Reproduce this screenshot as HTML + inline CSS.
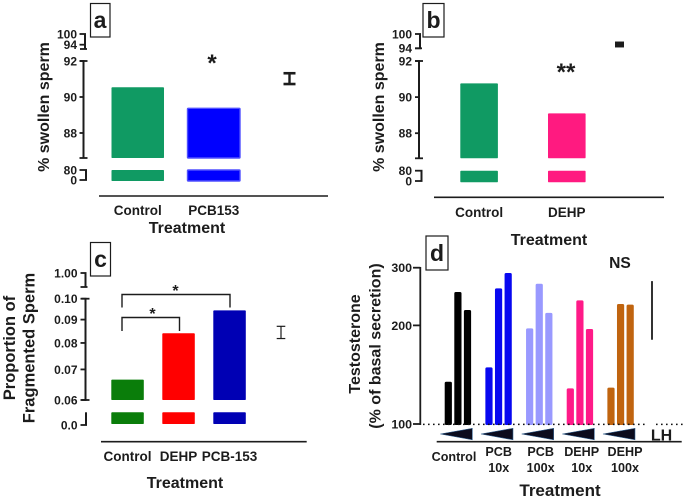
<!DOCTYPE html>
<html lang="en">
<head>
<meta charset="utf-8">
<title>Sperm and testosterone treatment charts</title>
<style>
html,body{margin:0;padding:0;background:#fff;width:685px;height:498px;overflow:hidden}
svg{display:block;filter:blur(0.3px)}
text{font-family:"Liberation Sans",Arial,sans-serif;font-weight:bold;fill:#1c1c1c}
</style>
</head>
<body>
<svg id="chart" xmlns="http://www.w3.org/2000/svg" width="685" height="498" viewBox="0 0 685 498">
  <g stroke="#1c1c1c" stroke-width="1.2" fill="#fff">
    <rect x="90.5" y="3.5" width="19.5" height="33.5"/>
    <rect x="423" y="3.5" width="21" height="33.5"/>
    <rect x="90.5" y="242.5" width="20" height="33.5"/>
    <rect x="426" y="236" width="22" height="34"/>
  </g>
  <text x="100" y="28" font-size="23" text-anchor="middle">a</text>
  <text x="433.5" y="28" font-size="23" text-anchor="middle">b</text>
  <text x="100.5" y="267" font-size="23" text-anchor="middle">c</text>
  <text x="437" y="261" font-size="23" text-anchor="middle">d</text>

  <text transform="translate(49,107) rotate(-90)" font-size="16" text-anchor="middle">% swollen sperm</text>
  <text x="187" y="233" font-size="16" text-anchor="middle">Treatment</text>
  <text x="212" y="71" font-size="24" text-anchor="middle">*</text>

  <text transform="translate(384,107) rotate(-90)" font-size="16" text-anchor="middle">% swollen sperm</text>
  <text x="549" y="245" font-size="16" text-anchor="middle">Treatment</text>
  <text x="566" y="80" font-size="24" text-anchor="middle">**</text>

  <text transform="translate(15,348) rotate(-90)" font-size="16.5" text-anchor="middle">Proportion of</text>
  <text transform="translate(34.5,348) rotate(-90)" font-size="16.5" text-anchor="middle">Fragmented Sperm</text>
  <text x="185" y="488" font-size="16" text-anchor="middle">Treatment</text>
  <g fill="none" stroke="#1c1c1c" stroke-width="1.4">
    <path d="M122 307.5V294.5H230V307.5"/>
    <path d="M122 331V317.5H179.5V331"/>
  </g>
  <text x="175.5" y="296" font-size="16" text-anchor="middle">*</text>
  <text x="152.5" y="319" font-size="16" text-anchor="middle">*</text>

  <text transform="translate(360,344) rotate(-90)" font-size="16" text-anchor="middle">Testosterone</text>
  <text transform="translate(380.5,346) rotate(-90)" font-size="16" text-anchor="middle">(% of basal secretion)</text>
  <text x="560" y="496" font-size="17" text-anchor="middle">Treatment</text>
  <text x="620" y="268" font-size="15.6" text-anchor="middle">NS</text>
  <text x="661.5" y="440.5" font-size="16" text-anchor="middle">LH</text>
</svg>
<script>
// Panel a
const aCategories = ['Control', 'PCB153'];
const aValues = [90.54, 89.37];
const aTickValues = [100, 94, 92, 90, 88, 80, 0];
const aTickLabels = ['100', '94', '92', '90', '88', '80', '0'];
const aErrorRange = [90.72, 91.32];
// Panel b
const bCategories = ['Control', 'DEHP'];
const bValues = [90.76, 89.1];
const bTickValues = [100, 94, 92, 90, 88, 80, 0];
const bTickLabels = ['100', '94', '92', '90', '88', '80', '0'];
const bErrorRange = [94.9, 96.3];
// Panel c
const cCategories = ['Control', 'DEHP', 'PCB-153'];
const cValues = [0.0665, 0.084, 0.0943];
const cTickValues = [1, 0.1, 0.09, 0.08, 0.07, 0.06, 0];
const cTickLabels = ['1.00', '0.10', '0.09', '0.08', '0.07', '0.06', '0.0'];
const cErrorRange = [0.0818, 0.087];
// Panel d
const dGroups = [['Control'], ['PCB', '10x'], ['PCB', '100x'], ['DEHP', '10x'], ['DEHP', '100x']];
const dLow = [134.6, 148.9, 195.9, 128.5, 129.1];
const dMid = [253, 259.5, 268, 238.5, 232.4];
const dHigh = [222.8, 289, 218.3, 195, 231.4];
const dTickValues = [300, 200, 100];
const dTickLabels = ['300', '200', '100'];
const dErrorRange = [180.8, 273];

const svg = document.getElementById('chart');
const NS = 'http://www.w3.org/2000/svg';
const INK = '#1c1c1c';

function mk(tag, attrs, parent) {
  const el = document.createElementNS(NS, tag);
  for (const k in attrs) el.setAttribute(k, attrs[k]);
  (parent || svg).appendChild(el);
  return el;
}
function makeScale(d0, d1, r0, r1, isLog) {
  const f = isLog ? Math.log10 : (x => x);
  return v => r0 + (f(v) - f(d0)) / (f(d1) - f(d0)) * (r1 - r0);
}
function line(x1, y1, x2, y2, w, name, color) {
  const el = mk('line', { x1: x1, y1: y1, x2: x2, y2: y2, stroke: color || INK, 'stroke-width': w });
  
  
  return el;
}
function label(x, y, str, size, anchor, name) {
  const el = mk('text', { x: x, y: y, 'font-size': size, 'text-anchor': anchor });
  el.textContent = str;
  
  
  return el;
}
function rect(x, top, w, bottom, fill, stroke, name) {
  const el = mk('rect', { x: x, y: Math.min(top, bottom), width: w, height: Math.abs(bottom - top), rx: 0.8, fill: fill });
  if (stroke) {
    el.setAttribute('stroke', stroke);
    el.setAttribute('stroke-width', 1.4);
  }
  
  
  return el;
}

// Broken-axis panel drawing shared by a, b and c
function brokenPanel(cfg) {
  const pick = v => v >= cfg.upperMin ? cfg.upper : (v > cfg.lowerMax ? cfg.main : cfg.lower);
  line(cfg.upperX, cfg.upperTop, cfg.upperX, cfg.upperBottom, 2, cfg.id + '-y-axis-upper');
  line(cfg.mainX, cfg.mainTop, cfg.mainX, cfg.mainBottom, 2, cfg.id + '-y-axis-main');
  line(cfg.lowerX, cfg.lowerTop, cfg.lowerX, cfg.lowerBottom, 2, cfg.id + '-y-axis-lower');
  line(cfg.upperX - 5, cfg.upperBottom, cfg.upperX + 2, cfg.upperBottom, 1.8, cfg.id + '-axis-break-cap');
  line(cfg.mainX - 4, cfg.mainTop, cfg.mainX + 4, cfg.mainTop, 1.8, cfg.id + '-axis-break-cap');
  line(cfg.mainX - 4, cfg.mainBottom, cfg.mainX + 4, cfg.mainBottom, 1.8, cfg.id + '-axis-break-cap');
  cfg.tickValues.forEach((v, i) => {
    const y = pick(v)(v);
    const s = pick(v);
    const ax = s === cfg.upper ? cfg.upperX : (s === cfg.main ? cfg.mainX : cfg.lowerX);
    line(cfg.tickX, y, ax + 1, y, 1.8, cfg.id + '-y-tick');
    label(cfg.labelX, y + 4.4, cfg.tickLabels[i], 12, 'end', cfg.id + '-y-tick-label');
  });
  cfg.values.forEach((v, i) => {
    const x = cfg.barX + i * cfg.barStep;
    rect(x, cfg.main(v), cfg.barW, cfg.mainBottom, cfg.colors[i], cfg.strokes[i], cfg.id + '-bar-' + cfg.categories[i].toLowerCase());
    rect(x, cfg.lowerTop, cfg.barW, cfg.barBase, cfg.colors[i], cfg.strokes[i], cfg.id + '-bar-stub-' + cfg.categories[i].toLowerCase());
    label(x + cfg.barW / 2, cfg.catY, cfg.categories[i], cfg.catSize, 'middle', cfg.id + '-category-label');
  });
  line(cfg.axisL, cfg.axisY, cfg.axisR, cfg.axisY, 1.6, cfg.id + '-x-axis');
  const s = pick(cfg.errorRange[0]);
  const y0 = s(cfg.errorRange[0]);
  const y1 = s(cfg.errorRange[1]);
  line(cfg.errX, y0, cfg.errX, y1, cfg.errStem, cfg.id + '-error-bar-stem');
  line(cfg.errX - cfg.errCap, y0, cfg.errX + cfg.errCap, y0, cfg.errW, cfg.id + '-error-bar-cap');
  line(cfg.errX - cfg.errCap, y1, cfg.errX + cfg.errCap, y1, cfg.errW, cfg.id + '-error-bar-cap');
}

brokenPanel({
  id: 'panel-a', categories: aCategories, values: aValues, tickValues: aTickValues, tickLabels: aTickLabels, errorRange: aErrorRange,
  main: makeScale(86.61, 92, 158, 61), upper: makeScale(94, 100, 44.7, 34), lower: makeScale(0, 80, 180, 170),
  upperMin: 93, lowerMax: 80,
  upperX: 85, upperTop: 34, upperBottom: 49, mainX: 83.5, mainTop: 61, mainBottom: 158, lowerX: 86, lowerTop: 170, lowerBottom: 180,
  tickX: 79.5, labelX: 77, barX: 111.5, barStep: 76, barW: 52.5, barBase: 181,
  colors: ['#109a63', '#0000ff'], strokes: [null, '#5050ff'],
  catY: 215, catSize: 13.5, axisL: 99, axisR: 328, axisY: 196,
  errX: 289.5, errCap: 6, errW: 2.6, errStem: 2.4
});
brokenPanel({
  id: 'panel-b', categories: bCategories, values: bValues, tickValues: bTickValues, tickLabels: bTickLabels, errorRange: bErrorRange,
  main: makeScale(86.61, 92, 158.3, 61), upper: makeScale(94, 100, 48.3, 34), lower: makeScale(0, 80, 181, 170.7),
  upperMin: 93, lowerMax: 80,
  upperX: 420, upperTop: 34, upperBottom: 48.3, mainX: 419, mainTop: 61, mainBottom: 158.3, lowerX: 421.5, lowerTop: 170.7, lowerBottom: 181,
  tickX: 415, labelX: 412, barX: 460.3, barStep: 87.7, barW: 37.6, barBase: 182.3,
  colors: ['#109a63', '#ff1a80'], strokes: [null, null],
  catY: 217, catSize: 13.5, axisL: 434, axisR: 664, axisY: 197.3,
  errX: 619.5, errCap: 4.5, errW: 2.6, errStem: 9
});
brokenPanel({
  id: 'panel-c', categories: cCategories, values: cValues, tickValues: cTickValues, tickLabels: cTickLabels, errorRange: cErrorRange,
  main: makeScale(0.06, 0.1, 400, 298.7, true), upper: makeScale(0.5, 1, 287, 273), lower: makeScale(0, 0.05, 425, 412.3),
  upperMin: 0.5, lowerMax: 0.05,
  upperX: 85.5, upperTop: 273, upperBottom: 287, mainX: 85.5, mainTop: 298.7, mainBottom: 400, lowerX: 86, lowerTop: 412.3, lowerBottom: 425,
  tickX: 80.5, labelX: 77.5, barX: 111.3, barStep: 51, barW: 32.5, barBase: 424,
  colors: ['#0a7d0a', '#ff0000', '#0000b4'], strokes: [null, null, null],
  catY: 461, catSize: 13.5, axisL: 101, axisR: 306.7, axisY: 441.7,
  errX: 281, errCap: 4.3, errW: 1.2, errStem: 1.2
});

// Panel d: log axis with clustered bars
const dScale = makeScale(100, 300, 424, 267.7, true);
const dColors = ['#000000', '#0808f0', '#9999ff', '#ff1a88', '#c0640f'];
const dSeries = [dLow, dMid, dHigh];
const dTextCenters = [454, 498.7, 540.7, 581.7, 625];
line(420.3, 267, 420.3, 425, 1.8, 'panel-d-y-axis');
dTickValues.forEach((v, i) => {
  const y = dScale(v);
  line(413, y, 420.3, y, 1.8, 'panel-d-y-tick');
  label(412, y + 4.5, dTickLabels[i], 12.4, 'end', 'panel-d-y-tick-label');
});
dGroups.forEach((g, gi) => {
  const gx = 444.7 + gi * 40.67;
  dSeries.forEach((series, si) => {
    const bar = rect(gx + si * 9.6, dScale(series[gi]), 7.2, 425, dColors[gi], null, 'panel-d-bar');
    bar.setAttribute('rx', 1.5);
  });
  const wedge = mk('polygon', { points: (gx - 4.4) + ',434 ' + (gx + 27.6) + ',428.3 ' + (gx + 27.6) + ',439.8', fill: '#0c0c1e', stroke: '#2f5f8f', 'stroke-width': 0.6 });
  
  
  if (g.length === 1) {
    label(dTextCenters[gi], 461, g[0], 12.6, 'middle', 'panel-d-group-label');
  } else {
    label(dTextCenters[gi], 455.8, g[0], 12.6, 'middle', 'panel-d-group-label');
    label(dTextCenters[gi], 471.8, g[1], 12.6, 'middle', 'panel-d-group-label');
  }
});
const baseline = line(423, 424.4, 648, 424.4, 1.5, 'basal-reference-line', '#111');
baseline.setAttribute('stroke-dasharray', '1.6 3.4');
const baseline2 = line(656, 424.4, 685, 424.4, 1.5, 'basal-reference-line', '#111');
baseline2.setAttribute('stroke-dasharray', '1.6 3.4');
line(436.7, 441.7, 681.7, 441.7, 1.6, 'panel-d-x-axis');
line(652, dScale(dErrorRange[0]), 652, dScale(dErrorRange[1]), 1.8, 'panel-d-error-bar');
</script>
</body>
</html>
